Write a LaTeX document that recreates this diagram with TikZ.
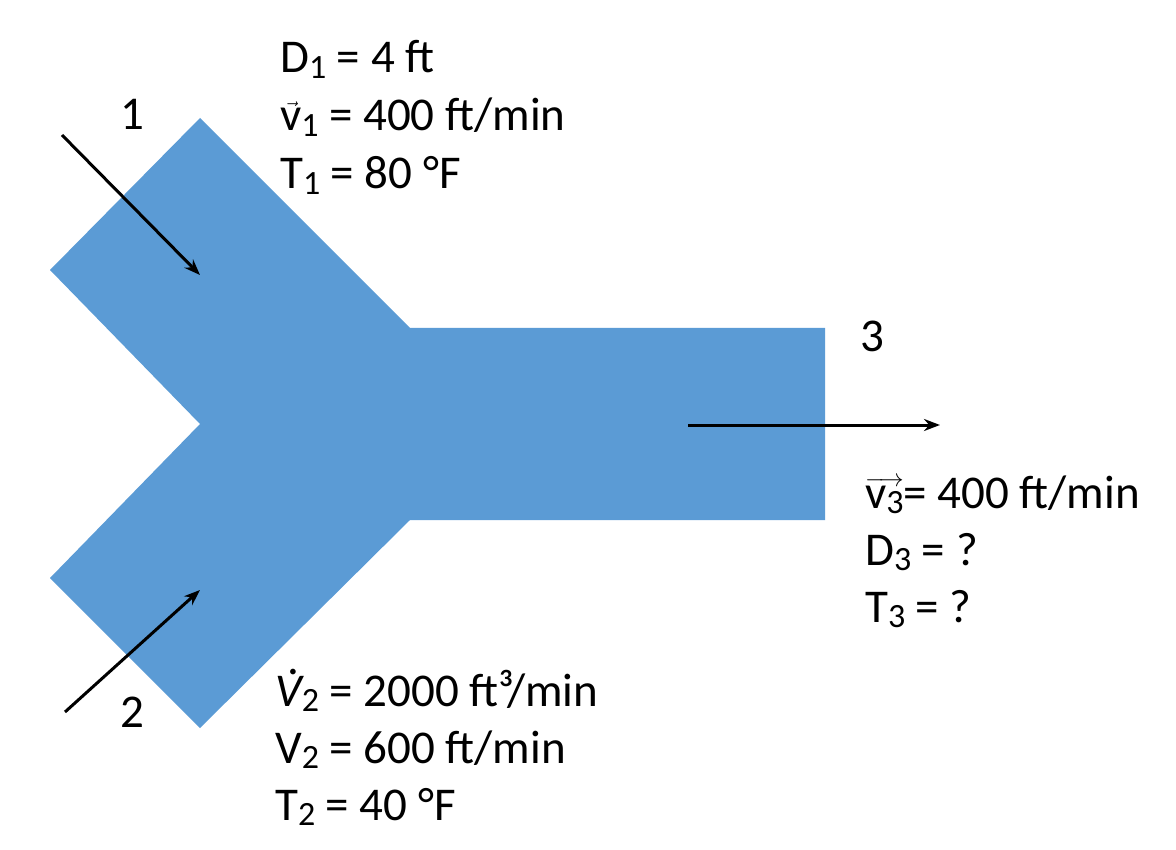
\documentclass[tikz,border=0pt]{standalone}
\usepackage{fontspec}
\setmainfont{Carlito}
\usetikzlibrary{arrows.meta}
\newcommand{\sbs}[1]{\raisebox{-0.25ex}{\fontsize{34}{34}\selectfont #1}}
\newcommand{\dotV}{\rlap{\hspace{0.27em}\raisebox{0.68em}{.}}{\itshape V}}
\begin{document}
\begin{tikzpicture}[x=1pt,y=-1pt,
  lbl/.style={anchor=base west,inner sep=0pt,font=\fontsize{47}{57}\selectfont},
  arr/.style={-{Stealth[length=16pt,width=12pt]},line width=3pt}]
\useasboundingbox (0,0) rectangle (1176,850);
\fill[fill={rgb,255:red,91;green,155;blue,213}] (200,118) -- (410,328) -- (825,328) -- (825,520) -- (410,520) -- (200,728) -- (50,578) -- (200,424) -- (50,270) -- cycle;
\coordinate (a1) at (62,135); \coordinate (b1) at (200,275);
\coordinate (a2) at (65,712); \coordinate (b2) at (200,590);
\coordinate (a3) at (688,425); \coordinate (b3) at (940,425);
\draw[arr] (a1) -- (b1);
\draw[arr] (a2) -- (b2);
\draw[arr] (a3) -- (b3);
\node[lbl] (n1) at (120,130) {1};
\node[lbl] (n2) at (120,727) {2};
\node[lbl] (n3) at (860,352) {3};
\node[lbl] (t1a) at (280,73) {D\sbs{1} = 4 ft};
\node[lbl] (t1b) at (280,131) {$\vec{\hbox{v}}$\sbs{1} = 400 ft/min};
\node[lbl] (t1c) at (280,189) {T\sbs{1} = 80 °F};
\node[lbl] (t2a) at (275,706) {\dotV\sbs{2} = 2000 ft³/min};
\node[lbl] (t2b) at (275,763) {V\sbs{2} = 600 ft/min};
\node[lbl] (t2c) at (275,820) {T\sbs{2} = 40 °F};
\node[lbl] (t3a) at (865,508) {$\overrightarrow{\hbox{v\sbs{3}}}$= 400 ft/min};
\node[lbl] (t3b) at (865,565) {D\sbs{3} = ?};
\node[lbl] (t3c) at (865,622) {T\sbs{3} = ?};
\end{tikzpicture}
\end{document}
